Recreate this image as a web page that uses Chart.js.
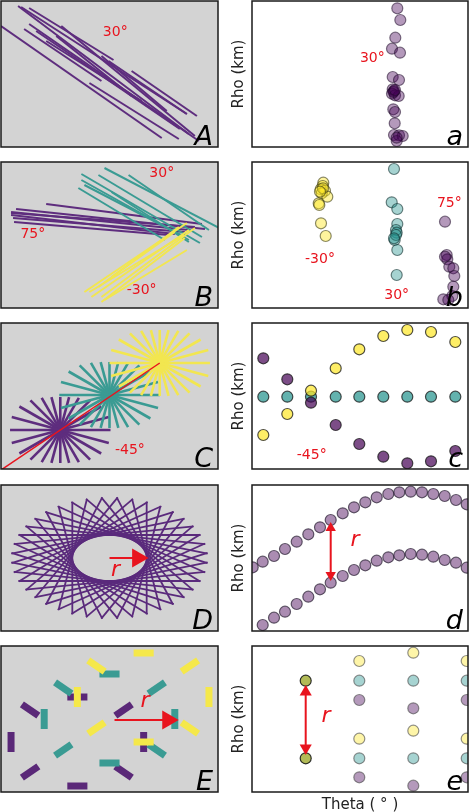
<!DOCTYPE html>
<html>
<head>
<meta charset="utf-8">
<script src="https://cdn.jsdelivr.net/npm/chart.js@4.4.1/dist/chart.umd.min.js"></script>
<style>
  body { margin: 0; background: #fff; width: 474px; height: 812px; position: relative; overflow: hidden; }
  canvas { position: absolute; }
</style>
</head>
<body>
<canvas id="pA"></canvas><canvas id="pa"></canvas>
<canvas id="pB"></canvas><canvas id="pb"></canvas>
<canvas id="pC"></canvas><canvas id="pc"></canvas>
<canvas id="pD"></canvas><canvas id="pd"></canvas>
<canvas id="pE"></canvas><canvas id="pe"></canvas>
<script>
// all panels use the same units: x 0..216, rho 0..146 (drawn top-down)

// A: segments [x1, y1, x2, y2]
const linesA = [
  [17, 5, 187, 133], [28, 7, 112, 59], [20, 6, 185, 113], [0, 25, 160, 137],
  [23, 28, 100, 80], [28, 23, 197, 140], [35, 30, 178, 128], [107, 60, 185, 113],
  [88, 82, 177, 138], [55, 35, 130, 95], [45, 40, 140, 100], [60, 25, 193, 135],
  [100, 55, 165, 110], [130, 70, 195, 115]
];

// B: three families of segments
const linesB75 = [
  [15, 47, 203, 67], [45, 42, 200, 62], [10, 50, 187, 68], [10, 53, 173, 72],
  [12, 56, 183, 70], [13, 60, 167, 73], [10, 51, 193, 65]
];
const linesB30 = [
  [80, 12, 198, 81], [103, 6, 217, 66], [127, 13, 207, 68], [80, 18, 187, 78],
  [77, 26, 163, 78], [97, 13, 200, 75], [83, 23, 183, 75], [110, 30, 187, 80]
];
const linesBm30 = [
  [83, 130, 185, 61], [90, 135, 187, 68], [100, 140, 183, 76], [97, 125, 177, 65],
  [88, 130, 182, 73], [100, 135, 193, 66], [103, 138, 185, 88], [110, 115, 173, 70]
];

// C: one star shape (angle in degrees, half length), repeated at three centres
const starAngles = [0, 15, 30, 45, 60, 75, 90, 105, 120, 135, 150, 165];
const starHalf = [50, 50, 47, 42, 37, 34, 33, 34, 37, 42, 47, 50];
const starPurple = [59, 107];
const starTeal = [108, 72];
const starYellow = [158, 40];
const lineC45 = [0, 147, 158, 40];

// D: lines tangent to the ellipse around the hole
const holeD = [108, 73, 37, 23];
const tangentAngles = [0, 9, 18, 27, 36, 45, 54, 63, 72, 81, 90, 99, 108, 117, 126, 135, 144, 153, 162, 171,
  180, 189, 198, 207, 216, 225, 234, 243, 252, 261, 270, 279, 288, 297, 306, 315, 324, 333, 342, 351];
const tangentHalf = 2.45;
const arrowD = [108, 73, 147, 73];

// E: bars [cx, cy, angle in degrees]
const barsYellow = [[142, 7, 0], [95, 20, -35], [188, 20, 35], [207, 51, 90],
  [76, 51, 90], [95, 82, 35], [188, 82, -35], [142, 96, 0]];
const barsTeal = [[108, 28, 0], [62, 42, -35], [155, 42, 35], [43, 73, 90],
  [173, 73, 90], [62, 104, 35], [155, 104, -35], [108, 117, 0]];
const barsPurple = [[76, 51, 0], [29, 64, -35], [122, 64, 35], [10, 96, 90],
  [142, 96, 90], [29, 126, 35], [122, 126, -35], [76, 140, 0]];
const arrowE = [113, 74, 177, 74];

// a: Hough points
const ptsA = [[145.3, 7.3], [148.3, 19], [143.3, 36.7], [140, 47.7], [148, 51.7], [140.7, 76],
  [147, 79], [140.7, 88.3], [142, 90], [140, 92.7], [143, 94.3], [146.7, 95], [141.3, 108.3],
  [143, 111], [142.7, 122.3], [142, 134], [147, 134.3], [150.7, 135], [144.7, 140], [144.7, 136.7],
  [141.5, 91], [143, 89]];

// b
const ptsBYellow = [[71.3, 20.7], [70.7, 24], [68.7, 27.3], [73, 28.7], [69.7, 31.3], [75.3, 34.7],
  [66.7, 41.3], [67.3, 43], [69, 61.3], [73.7, 74], [71, 26.3], [68, 29.7]];
const ptsBTeal = [[142, 7], [139.7, 40.3], [145.3, 47], [145.3, 62], [144, 68], [144.7, 70.7],
  [142.7, 78], [145.3, 88], [144.7, 113], [144, 73], [142, 76.3]];
const ptsBPurple = [[193, 59.7], [194.7, 93], [195.3, 97.3], [197.3, 104.7], [201.3, 106.3],
  [202.3, 114], [201.3, 124.7], [191.3, 137.3], [200.3, 134], [196.3, 138], [193, 94.7]];

// c
const thetaC = [11.3, 35.3, 59, 83.7, 107.3, 131.3, 155.3, 179, 203.3];
const rhoCTeal = [73.7, 73.7, 73.7, 73.7, 73.7, 73.7, 73.7, 73.7, 73.7];
const rhoCYellow = [112, 91, 67.7, 45.3, 26.3, 13, 7, 9, 19];
const rhoCPurple = [35.3, 56.3, 79.7, 102, 121, 133.7, 140.3, 138.3, 128];

// d
const thetaDUpper = [0.7, 10.7, 22, 33, 44.7, 56.3, 68, 78.7, 90.7, 102, 113.3, 124.7, 136.3, 147.3,
  158.7, 170, 181.3, 192.7, 204, 214.7];
const rhoDUpper = [82.3, 76.7, 71, 64, 56.7, 49.3, 42.3, 35, 28.3, 22.3, 17.3, 12.3, 9, 7.3,
  6.7, 7.3, 9, 11, 15, 19.3];
const thetaDLower = [10.7, 22, 33, 44.7, 56.3, 68, 78.7, 90.7, 102, 113.3, 124.7, 136.3, 147.3,
  158.7, 170, 181.3, 192.7, 204, 214.7];
const rhoDLower = [140, 132.7, 126.7, 119, 111.7, 104.3, 97.7, 91, 85, 80.3, 75.7, 72.3, 70.3,
  69, 69.7, 71.7, 75, 77.7, 82.7];
const arrowDd = [78.7, 37, 78.7, 96];

// e
const ptsEYellow = [[107.3, 15], [107.3, 92.7], [161.3, 6.7], [161.3, 84.7], [214.7, 15], [214.7, 92.7]];
const ptsETeal = [[107.3, 34.7], [107.3, 112.3], [161.3, 34.7], [161.3, 112.3], [214.7, 34.7], [214.7, 112.3]];
const ptsEPurple = [[107.3, 54], [107.3, 131.3], [161.3, 62.3], [161.3, 139.7], [214.7, 54], [214.7, 131.3]];
const ptsEAll = [[53.7, 34.7], [53.7, 112.3]];
const arrowEe = [53.7, 39, 53.7, 109];

// ---------------------------------------------------------------

const PURPLE = '#5e2d7e', TEAL = '#3a9b93', YELLOW = '#f2e650', RED = '#e8141e';
const FONT = '"DejaVu Sans", sans-serif';

const rowTops = [1, 162, 323, 485, 646];
const H = 146;

function seg(s, color, width) {
  return {
    data: [{ x: s[0], y: s[1] }, { x: s[2], y: s[3] }],
    showLine: true, borderColor: color, borderWidth: width,
    pointRadius: 0, borderCapStyle: 'butt'
  };
}

function barSeg(b, color) {
  const r = b[2] * Math.PI / 180, h = 10;
  return seg([b[0] - h * Math.cos(r), b[1] + h * Math.sin(r), b[0] + h * Math.cos(r), b[1] - h * Math.sin(r)], color, 7);
}

function starSegs(c, color) {
  return starAngles.map((a, i) => {
    const r = a * Math.PI / 180, h = starHalf[i];
    return seg([c[0] - h * Math.cos(r), c[1] + h * Math.sin(r), c[0] + h * Math.cos(r), c[1] - h * Math.sin(r)], color, 2.6);
  });
}

function arrow(a, size, heads) {
  // heads: 'end' or 'both'; line stops where the triangle starts
  const dx = a[2] - a[0], dy = a[3] - a[1];
  const len = Math.hypot(dx, dy), ux = dx / len, uy = dy / len;
  const rot = Math.atan2(dx, -dy) * 180 / Math.PI;
  const pts = [];
  if (heads === 'both') pts.push({ x: a[0] + ux * size, y: a[1] + uy * size });
  else pts.push({ x: a[0], y: a[1] });
  pts.push({ x: a[2] - ux * size, y: a[3] - uy * size });
  return {
    data: pts, showLine: true, borderColor: RED, borderWidth: 2,
    pointStyle: 'triangle',
    pointRadius: heads === 'both' ? [size, size] : [0, size],
    pointRotation: [rot + 180, rot],
    pointBackgroundColor: RED, pointBorderColor: RED, pointBorderWidth: 0
  };
}

function dots(pts, fill, edge, radius) {
  return {
    data: pts.map(p => ({ x: p[0], y: p[1] })),
    backgroundColor: fill, borderColor: edge, borderWidth: 1.2,
    pointRadius: radius || 5.5
  };
}

function zip(xs, ys) { return xs.map((x, i) => [x, ys[i]]); }

function deco(cfg) {
  return {
    id: 'deco',
    beforeDatasetsDraw(chart) {
      if (!cfg.bg) return;
      const a = chart.chartArea, ctx = chart.ctx;
      ctx.save();
      ctx.fillStyle = cfg.bg;
      ctx.fillRect(a.left, a.top, a.right - a.left, a.bottom - a.top);
      ctx.restore();
    },
    afterDraw(chart) {
      const a = chart.chartArea, ctx = chart.ctx;
      const xs = chart.scales.x, ys = chart.scales.y;
      ctx.save();
      ctx.textBaseline = 'middle';
      ctx.textAlign = 'center';
      ctx.fillStyle = RED;
      (cfg.labels || []).forEach(l => {
        ctx.font = l[3] ? 'italic 22px ' + FONT : '14px ' + FONT;
        ctx.fillText(l[0], xs.getPixelForValue(l[1]), ys.getPixelForValue(l[2]));
      });
      ctx.fillStyle = '#000';
      ctx.textAlign = 'right';
      ctx.textBaseline = 'alphabetic';
      ctx.font = 'italic 27px ' + FONT;
      ctx.fillText(cfg.letter, a.right - 5, a.bottom - 2);
      ctx.strokeStyle = '#1a1a1a';
      ctx.lineWidth = 1.5;
      ctx.strokeRect(a.left, a.top, a.right - a.left, a.bottom - a.top);
      ctx.restore();
    }
  };
}

function panel(id, left, top, width, height, datasets, cfg) {
  const el = document.getElementById(id);
  el.width = width; el.height = height;
  el.style.left = left + 'px'; el.style.top = top + 'px';
  const right = cfg.right;
  new Chart(el, {
    type: 'scatter',
    data: { datasets: datasets.slice().reverse() },
    options: {
      responsive: false, animation: false, events: [],
      layout: { padding: cfg.padding, autoPadding: false },
      plugins: { legend: { display: false }, tooltip: { enabled: false } },
      scales: {
        x: {
          min: 0, max: 216, display: !!cfg.xTitle,
          ticks: { display: false }, grid: { display: false, drawTicks: false }, border: { display: false },
          title: { display: !!cfg.xTitle, text: cfg.xTitle, color: '#222', font: { family: FONT, size: 15 } }
        },
        y: {
          min: 0, max: 146, reverse: true, display: !!right,
          ticks: { display: false }, grid: { display: false, drawTicks: false }, border: { display: false },
          title: { display: !!right, text: 'Rho (km)', color: '#222', font: { family: FONT, size: 15 } }
        }
      },
      elements: { point: { hoverRadius: 0 } },
      datasets: { scatter: { clip: 0 } }
    },
    plugins: [deco(cfg)]
  });
}

function leftPanel(id, row, datasets, cfg) {
  cfg.bg = '#d3d3d3';
  cfg.padding = 1;
  panel(id, 0, rowTops[row] - 1, 219, H + 2, datasets, cfg);
}

function rightPanel(id, row, datasets, cfg) {
  cfg.right = true;
  cfg.padding = { left: 2, right: 2, top: 1, bottom: 1 };
  panel(id, 224, rowTops[row] - 1, 246, H + 2 + (cfg.xTitle ? 26 : 0), datasets, cfg);
}

// ---- row A
leftPanel('pA', 0, linesA.map(s => seg(s, PURPLE, 2)),
  { letter: 'A', labels: [['30°', 113.7, 31.7]] });
rightPanel('pa', 0, [dots(ptsA, 'rgba(68,1,84,0.4)', 'rgba(30,10,40,0.55)')],
  { letter: 'a', labels: [['30°', 120.3, 57.3]] });

// ---- row B
leftPanel('pB', 1, [
  ...linesB75.map(s => seg(s, PURPLE, 2)),
  ...linesB30.map(s => seg(s, TEAL, 2)),
  ...linesBm30.map(s => seg(s, YELLOW, 2))
], { letter: 'B', labels: [['30°', 160, 11.3], ['75°', 31.7, 72], ['-30°', 140, 128.7]] });
rightPanel('pb', 1, [
  dots(ptsBYellow, 'rgba(253,231,37,0.45)', 'rgba(60,60,20,0.6)'),
  dots(ptsBTeal, 'rgba(33,145,140,0.4)', 'rgba(20,50,50,0.6)'),
  dots(ptsBPurple, 'rgba(68,1,84,0.4)', 'rgba(30,10,40,0.55)')
], { letter: 'b', labels: [['-30°', 68, 97], ['30°', 144.7, 133], ['75°', 197.3, 41.3]] });

// ---- row C
leftPanel('pC', 2, [
  ...starSegs(starPurple, PURPLE),
  ...starSegs(starTeal, TEAL),
  ...starSegs(starYellow, YELLOW),
  seg(lineC45, RED, 1.5)
], { letter: 'C', labels: [['-45°', 128.3, 127.7]] });
rightPanel('pc', 2, [
  dots(zip(thetaC, rhoCTeal), 'rgba(33,145,140,0.7)', 'rgba(20,20,20,0.75)'),
  dots(zip(thetaC, rhoCPurple), 'rgba(68,1,84,0.7)', 'rgba(20,20,20,0.75)'),
  dots(zip(thetaC, rhoCYellow), 'rgba(253,231,37,0.7)', 'rgba(20,20,20,0.75)')
], { letter: 'c', labels: [['-45°', 59.7, 132]] });

// ---- row D
const tangentSegs = tangentAngles.map(t => {
  const r = t * Math.PI / 180, c = Math.cos(r), s = Math.sin(r), L = tangentHalf;
  return seg([
    holeD[0] + holeD[2] * (c - L * s), holeD[1] + holeD[3] * (s + L * c),
    holeD[0] + holeD[2] * (c + L * s), holeD[1] + holeD[3] * (s - L * c)
  ], '#5a2a7c', 1.8);
});
leftPanel('pD', 3, [...tangentSegs, arrow(arrowD, 11, 'end')],
  { letter: 'D', labels: [['r', 114, 85, true]] });
rightPanel('pd', 3, [
  dots(zip(thetaDUpper, rhoDUpper), 'rgba(68,1,84,0.45)', 'rgba(40,30,50,0.7)'),
  dots(zip(thetaDLower, rhoDLower), 'rgba(68,1,84,0.45)', 'rgba(40,30,50,0.7)'),
  arrow(arrowDd, 6, 'both')
], { letter: 'd', labels: [['r', 103, 55.7, true]] });

// ---- row E
leftPanel('pE', 4, [
  ...barsPurple.map(b => barSeg(b, '#5a2878')),
  ...barsTeal.map(b => barSeg(b, TEAL)),
  ...barsYellow.map(b => barSeg(b, '#f5e84a')),
  arrow(arrowE, 11, 'end')
], { letter: 'E', labels: [['r', 143.3, 55.7, true]] });
rightPanel('pe', 4, [
  dots(ptsEAll, 'rgba(68,1,84,0.55)', 'rgba(0,0,0,0)'),
  dots(ptsEAll, 'rgba(33,145,140,0.55)', 'rgba(0,0,0,0)'),
  dots(ptsEAll, 'rgba(253,231,37,0.55)', 'rgba(20,20,20,0.85)'),
  dots(ptsEYellow, 'rgba(253,231,37,0.4)', 'rgba(70,70,70,0.6)'),
  dots(ptsETeal, 'rgba(33,145,140,0.4)', 'rgba(70,70,70,0.6)'),
  dots(ptsEPurple, 'rgba(68,1,84,0.4)', 'rgba(70,70,70,0.6)'),
  arrow(arrowEe, 7, 'both')
], { letter: 'e', labels: [['r', 74, 70.7, true]], xTitle: 'Theta ( ° )' });
</script>
</body>
</html>
